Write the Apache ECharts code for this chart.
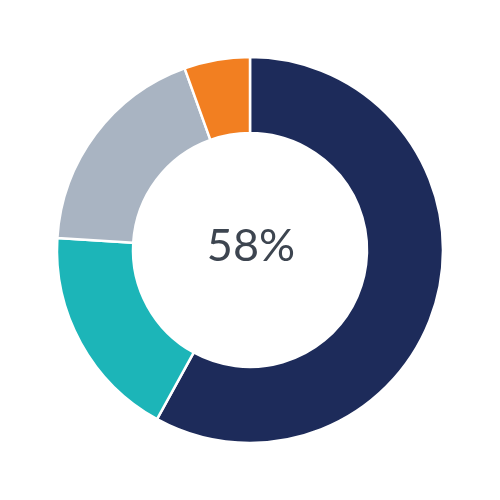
<!DOCTYPE html>
<html>
<head>
<meta charset="utf-8">
<script src="https://cdn.jsdelivr.net/npm/echarts@6/dist/echarts.min.js"></script>
<style>html,body{margin:0;padding:0;background:#fff;}#c{width:500px;height:500px;}</style>
</head>
<body>
<div id="c"></div>
<script>
const categories = ['A', 'B', 'C', 'D'];
const values = [58, 18, 18.5, 5.5];
const colors = ['#1d2b5a', '#1cb5b8', '#a9b4c2', '#f27f21'];
const centerLabel = '58%';

const chart = echarts.init(document.getElementById('c'), null, {renderer: 'canvas'});
chart.setOption({
  animation: false,
  graphic: [{
    type: 'text',
    x: 251,
    y: 246,
    style: {
      text: centerLabel,
      font: '45px Lato',
      fill: '#3d4550',
      align: 'center',
      verticalAlign: 'middle'
    }
  }],
  series: [{
    type: 'pie',
    center: [250, 250],
    radius: [117, 193],
    startAngle: 90,
    clockwise: true,
    label: {show: false},
    labelLine: {show: false},
    itemStyle: {borderColor: '#fff', borderWidth: 2.5},
    emphasis: {disabled: true},
    data: categories.map((c, i) => ({name: c, value: values[i], itemStyle: {color: colors[i]}}))
  }]
});
</script>
</body>
</html>
